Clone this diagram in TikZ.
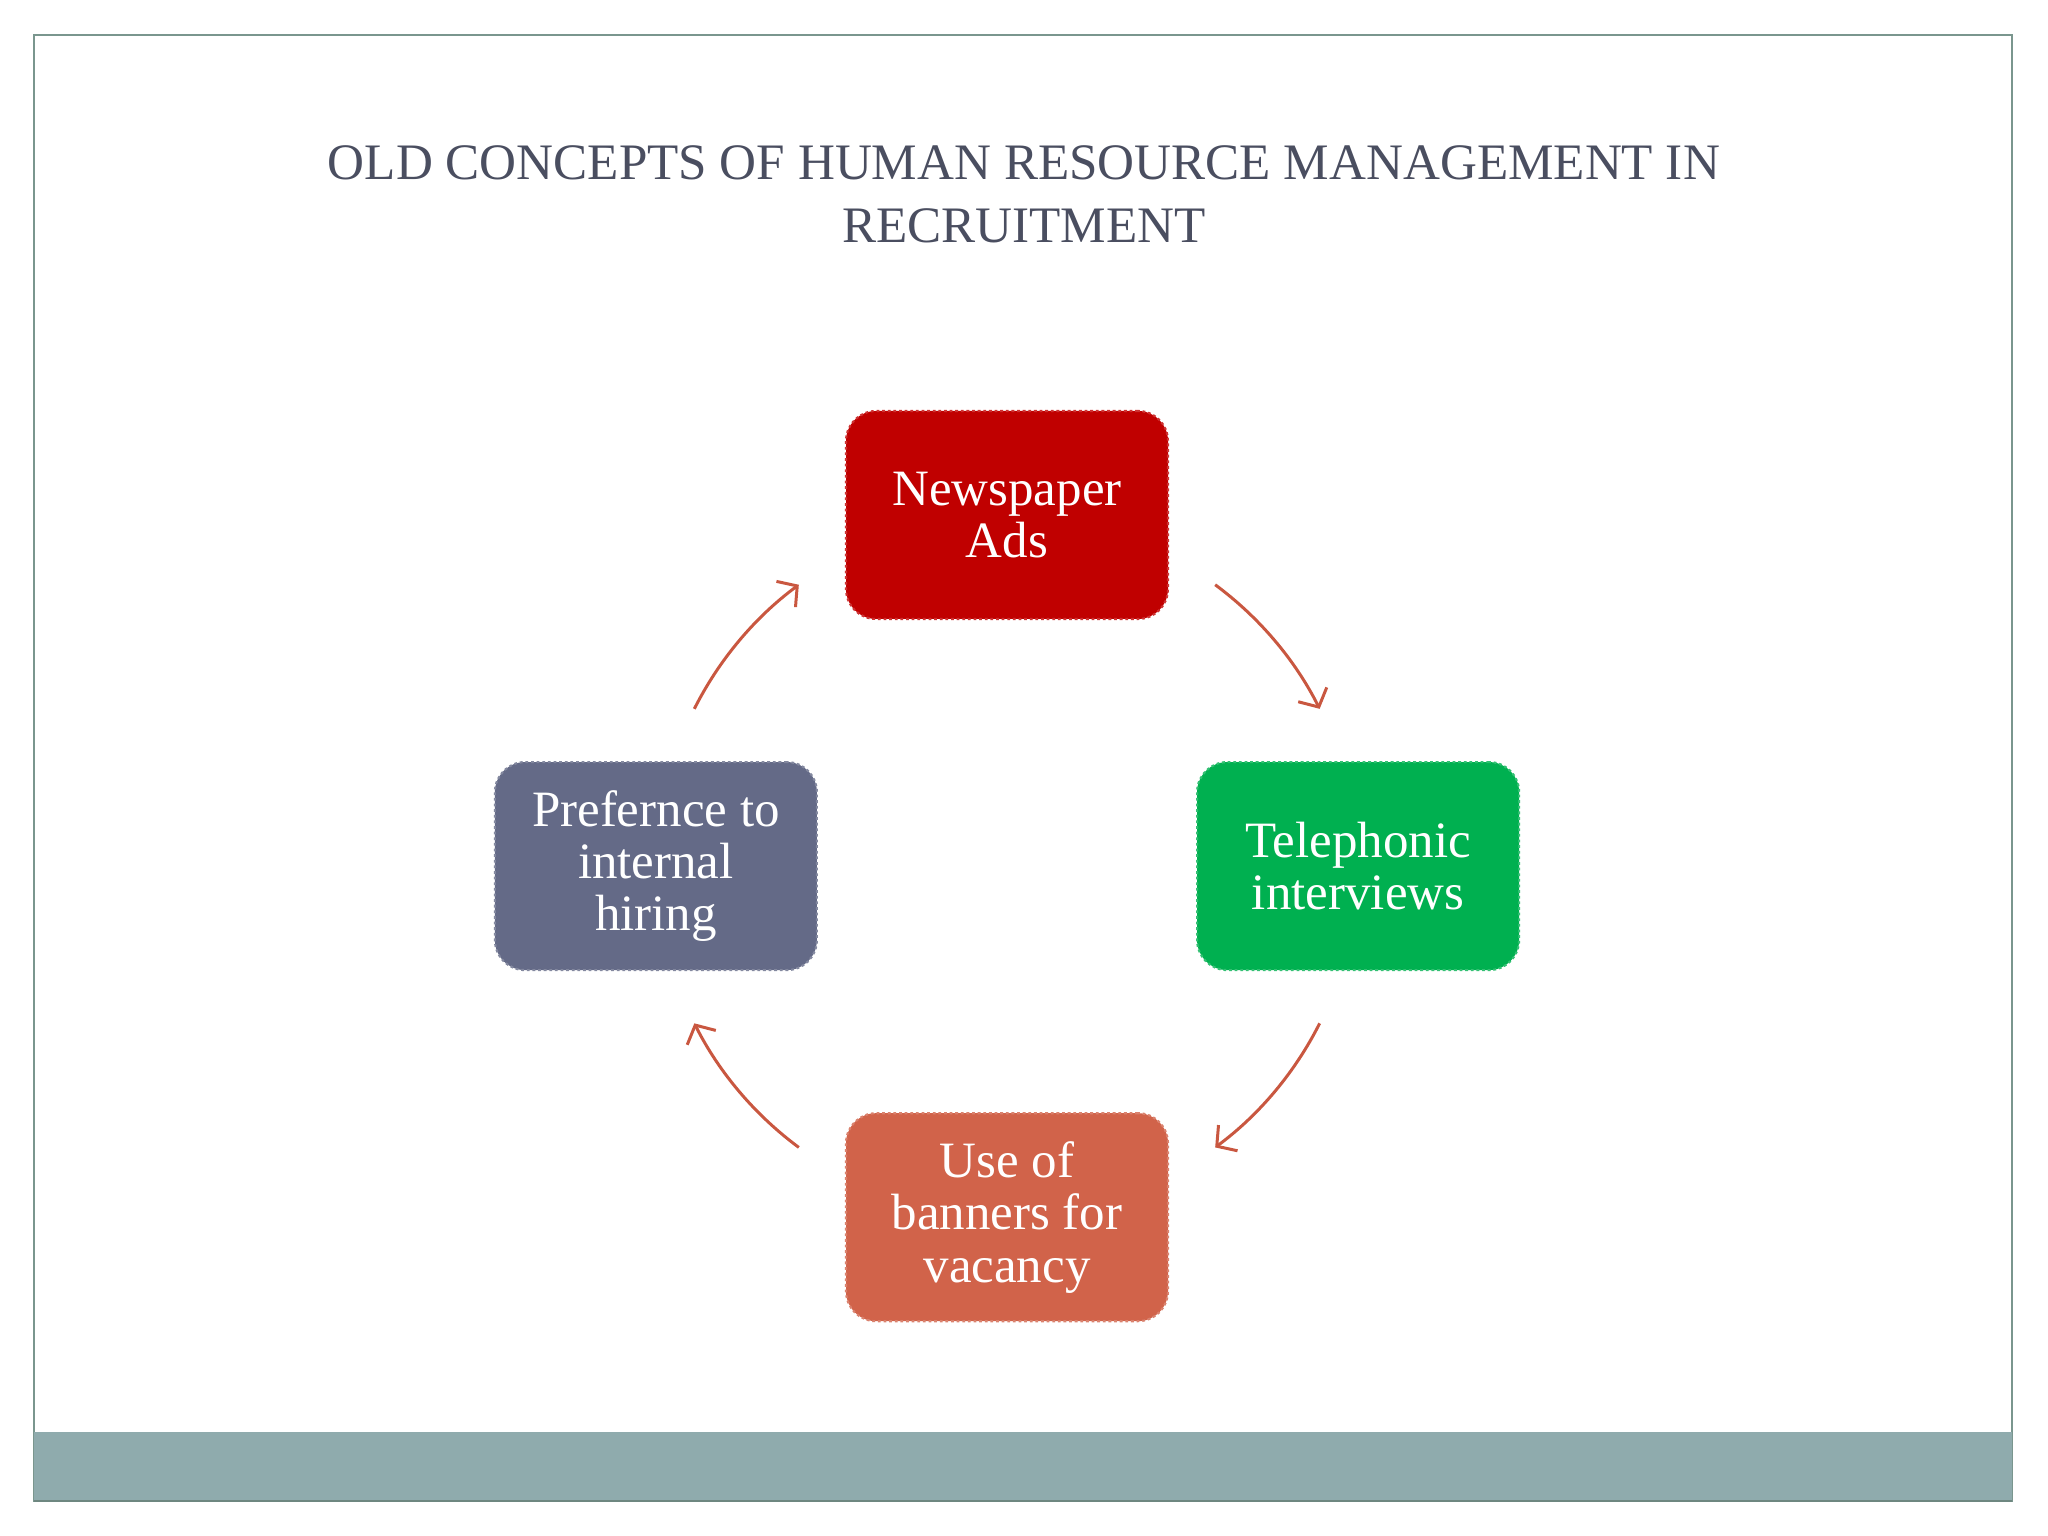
\documentclass[tikz,border=0pt]{standalone}
\usepackage{fontspec}
\setmainfont{Liberation Serif}
\usetikzlibrary{positioning,arrows.meta}

\definecolor{framegreen}{RGB}{122,150,142}
\definecolor{bandteal}{RGB}{143,171,173}
\definecolor{titleslate}{RGB}{74,78,96}
\definecolor{newsred}{RGB}{192,0,0}
\definecolor{telegreen}{RGB}{0,176,80}
\definecolor{bannerorange}{RGB}{209,99,74}
\definecolor{prefslate}{RGB}{100,106,135}
\definecolor{cyclearrow}{RGB}{201,87,64}

\begin{document}
\begin{tikzpicture}[
    conceptbox/.style={rectangle, rounded corners=0.3cm, minimum width=3.22cm, minimum height=2.08cm, inner sep=2pt, text=white, align=center, font=\fontsize{14.5}{14.9}\selectfont, line width=0.6pt, dash pattern=on 0.8pt off 0.8pt},
    cyc/.style={draw=cyclearrow, line width=0.85pt, -{Straight Barb[length=1.4mm, width=3.2mm, line width=0.85pt]}},
]
    \useasboundingbox (0,0) rectangle (20.48,15.36);

    % Slide frame and footer band
    \draw[framegreen, line width=0.8pt] (0.34,0.35) rectangle (20.12,15.01);
    \fill[bandteal] (0.34,0.35) rectangle (20.12,1.04);
    \draw[framegreen!90!black, line width=0.6pt] (0.34,0.35) -- (20.12,0.35);

    % Title
    \node[text=titleslate, align=center, font=\fontsize{14.55}{17.9}\selectfont] (title) at (10.24,13.42)
        {OLD CONCEPTS OF HUMAN RESOURCE MANAGEMENT IN\\RECRUITMENT};

    % Concepts
    \node[conceptbox, fill=newsred, draw=newsred!80!white] (news) at (10.07,10.21) {Newspaper\\Ads};
    \node[conceptbox, fill=telegreen, draw=telegreen!80!white, below right=1.41cm and 0.27cm of news] (tele) {Telephonic\\interviews};
    \node[conceptbox, fill=bannerorange, draw=bannerorange!80!white, below left=1.41cm and 0.27cm of tele] (banner) {Use of\\banners for\\vacancy};
    \node[conceptbox, fill=prefslate, draw=prefslate!80!white, above left=1.41cm and 0.27cm of banner] (pref) {Prefernce to\\internal\\hiring};

    % Cycle arrows
    \coordinate (mid) at (news |- tele);
    \foreach \a/\b in {53.5/26.7, -26.7/-53.5, -126.5/-153.3, 153.3/126.5}
        \draw[cyc] (mid) ++(\a:3.5) arc[start angle=\a, end angle=\b, radius=3.5];
\end{tikzpicture}
\end{document}
